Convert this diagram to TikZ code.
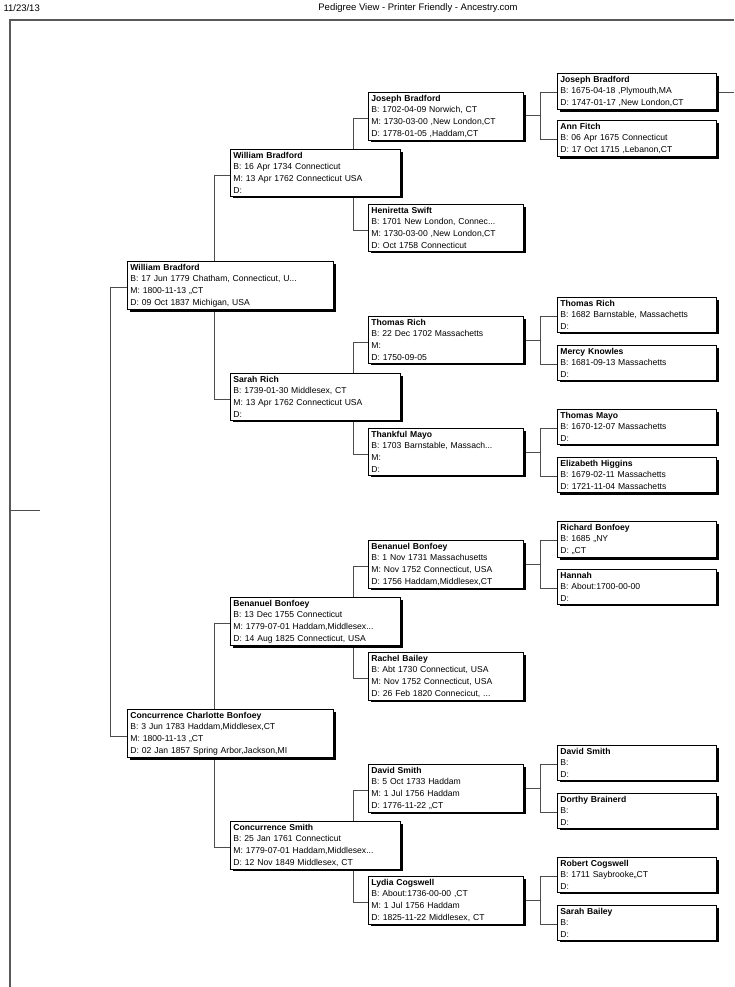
\documentclass[tikz,border=0pt]{standalone}
\usepackage{fontspec}
\setmainfont{Liberation Sans}
\usetikzlibrary{shadows}
\tikzset{
 pbox/.style={draw=black, line width=0.8pt, fill=white, anchor=north west, inner xsep=3pt, inner ysep=2.6pt,
   align=left, text width=#1, font=\fontsize{8.6}{11.7}\selectfont,
   drop shadow={shadow xshift=2.2pt, shadow yshift=-2.2pt, fill=black, opacity=1}},
 pbox/.default=150pt,
 conn/.style={draw=black!70, line width=0.7pt},
 frame/.style={draw=black!65, line width=1.2pt}
}
\newcommand{\nm}[1]{\textbf{#1}}
\begin{document}
\begin{tikzpicture}[x=1pt,y=-1pt]
\useasboundingbox[fill=white] (0,0) rectangle (734,987);
\node[anchor=west, font=\fontsize{9.5}{11}\selectfont] (date) at (0,8) {11/23/13};
\node[font=\fontsize{9.5}{11}\selectfont] (title) at (418,8) {Pedigree View - Printer Friendly - Ancestry.com};
\coordinate (ftl) at (10,20); \coordinate (ftr) at (734,20); \coordinate (fbl) at (10,987);
\draw[frame] (ftr) -- (ftl) -- (fbl);
\coordinate (s0) at (10,510); \coordinate (s1) at (40,510);
\draw[conn] (s0) -- (s1);
% connectors
\coordinate (a0) at (110,287); \coordinate (a1) at (110,736);
\draw[conn] (a0) -- (a1);
\coordinate (b0) at (214,175); \coordinate (b1) at (214,399);
\coordinate (b2) at (214,623); \coordinate (b3) at (214,847);
\draw[conn] (b0) -- (b1); \draw[conn] (b2) -- (b3);
\foreach \y/\z in {118/230,342/454,566/678,790/902}{
  \coordinate (c\y) at (353,\y); \coordinate (d\y) at (353,\z);
  \draw[conn] (c\y) -- (d\y) -- ++(15,0); \draw[conn] (c\y) -- ++(15,0);}
\foreach \y/\z in {92/139,316/364,428/476,540/588,764/812,876/924}{
  \coordinate (e\y) at (540,\y); \coordinate (f\y) at (540,\z);
  \draw[conn] (e\y) -- (f\y) -- ++(17,0); \draw[conn] (e\y) -- ++(17,0);}
\foreach \y in {115,340,452,564,788,900}{
  \coordinate (g\y) at (525,\y); \coordinate (h\y) at (540,\y); \draw[conn] (g\y) -- (h\y);}
\coordinate (j0) at (718,92); \coordinate (j1) at (734,92);
\draw[conn] (j0) -- (j1);
\foreach \y in {287,736}{\coordinate (k\y) at (110,\y); \draw[conn] (k\y) -- ++(17,0);}
\foreach \y in {175,399,623,847}{\coordinate (l\y) at (214,\y); \draw[conn] (l\y) -- ++(16,0);}
% gen0
\node[pbox=200pt] (p1) at (127,261) {\nm{William Bradford}\\B: 17 Jun 1779 Chatham, Connecticut, U...\\M: 1800-11-13 ,,CT\\D: 09 Oct 1837 Michigan, USA};
\node[pbox=200pt] (p2) at (127,709) {\nm{Concurrence Charlotte Bonfoey}\\B: 3 Jun 1783 Haddam,Middlesex,CT\\M: 1800-11-13 ,,CT\\D: 02 Jan 1857 Spring Arbor,Jackson,MI};
% gen1
\node[pbox=164pt] (p3) at (230,149) {\nm{William Bradford}\\B: 16 Apr 1734 Connecticut\\M: 13 Apr 1762 Connecticut USA\\D:};
\node[pbox=164pt] (p4) at (230,373) {\nm{Sarah Rich}\\B: 1739-01-30 Middlesex, CT\\M: 13 Apr 1762 Connecticut USA\\D:};
\node[pbox=164pt] (p5) at (230,597) {\nm{Benanuel Bonfoey}\\B: 13 Dec 1755 Connecticut\\M: 1779-07-01 Haddam,Middlesex...\\D: 14 Aug 1825 Connecticut, USA};
\node[pbox=164pt] (p6) at (230,821) {\nm{Concurrence Smith}\\B: 25 Jan 1761 Connecticut\\M: 1779-07-01 Haddam,Middlesex...\\D: 12 Nov 1849 Middlesex, CT};
% gen2
\node[pbox=149pt] (p7) at (368,92) {\nm{Joseph Bradford}\\B: 1702-04-09 Norwich, CT\\M: 1730-03-00 ,New London,CT\\D: 1778-01-05 ,Haddam,CT};
\node[pbox=149pt] (p8) at (368,204) {\nm{Heniretta Swift}\\B: 1701 New London, Connec...\\M: 1730-03-00 ,New London,CT\\D: Oct 1758 Connecticut};
\node[pbox=149pt] (p9) at (368,316) {\nm{Thomas Rich}\\B: 22 Dec 1702 Massachetts\\M:\\D: 1750-09-05};
\node[pbox=149pt] (p10) at (368,428) {\nm{Thankful Mayo}\\B: 1703 Barnstable, Massach...\\M:\\D:};
\node[pbox=149pt] (p11) at (368,540) {\nm{Benanuel Bonfoey}\\B: 1 Nov 1731 Massachusetts\\M: Nov 1752 Connecticut, USA\\D: 1756 Haddam,Middlesex,CT};
\node[pbox=149pt] (p12) at (368,652) {\nm{Rachel Bailey}\\B: Abt 1730 Connecticut, USA\\M: Nov 1752 Connecticut, USA\\D: 26 Feb 1820 Connecicut, ...};
\node[pbox=149pt] (p13) at (368,764) {\nm{David Smith}\\B: 5 Oct 1733 Haddam\\M: 1 Jul 1756 Haddam\\D: 1776-11-22 ,,CT};
\node[pbox=149pt] (p14) at (368,876) {\nm{Lydia Cogswell}\\B: About:1736-00-00 ,CT\\M: 1 Jul 1756 Haddam\\D: 1825-11-22 Middlesex, CT};
% gen3
\node[pbox=153pt] (q1) at (557,73) {\nm{Joseph Bradford}\\B: 1675-04-18 ,Plymouth,MA\\D: 1747-01-17 ,New London,CT};
\node[pbox=153pt] (q2) at (557,120) {\nm{Ann Fitch}\\B: 06 Apr 1675 Connecticut\\D: 17 Oct 1715 ,Lebanon,CT};
\node[pbox=153pt] (q3) at (557,297) {\nm{Thomas Rich}\\B: 1682 Barnstable, Massachetts\\D:};
\node[pbox=153pt] (q4) at (557,345) {\nm{Mercy Knowles}\\B: 1681-09-13 Massachetts\\D:};
\node[pbox=153pt] (q5) at (557,409) {\nm{Thomas Mayo}\\B: 1670-12-07 Massachetts\\D:};
\node[pbox=153pt] (q6) at (557,457) {\nm{Elizabeth Higgins}\\B: 1679-02-11 Massachetts\\D: 1721-11-04 Massachetts};
\node[pbox=153pt] (q7) at (557,521) {\nm{Richard Bonfoey}\\B: 1685 ,,NY\\D: ,,CT};
\node[pbox=153pt] (q8) at (557,569) {\nm{Hannah}\\B: About:1700-00-00\\D:};
\node[pbox=153pt] (q9) at (557,745) {\nm{David Smith}\\B:\\D:};
\node[pbox=153pt] (q10) at (557,793) {\nm{Dorthy Brainerd}\\B:\\D:};
\node[pbox=153pt] (q11) at (557,857) {\nm{Robert Cogswell}\\B: 1711 Saybrooke,,CT\\D:};
\node[pbox=153pt] (q12) at (557,905) {\nm{Sarah Bailey}\\B:\\D:};
\end{tikzpicture}
\end{document}
